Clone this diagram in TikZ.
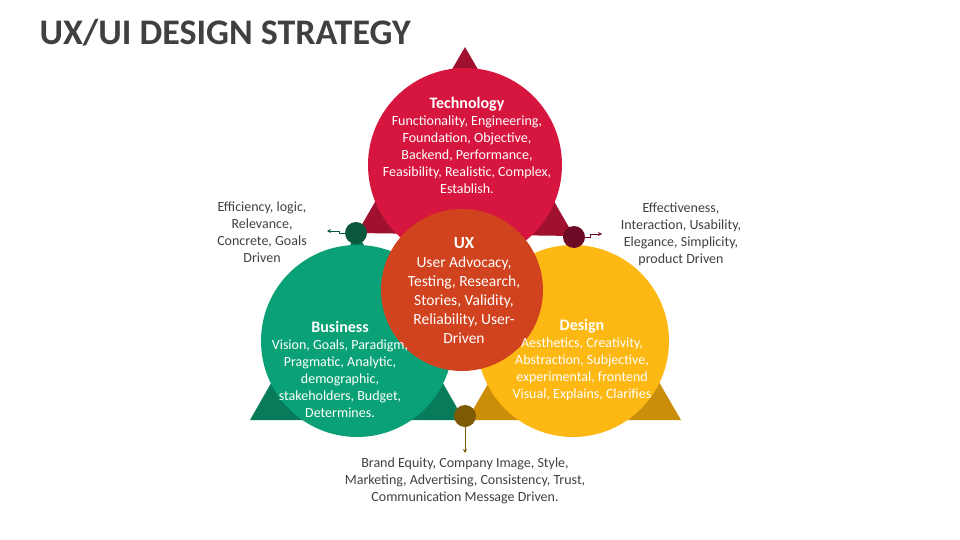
\documentclass[tikz,border=0pt]{standalone}
\usepackage{fontspec}
\setmainfont{Carlito}
\usepackage{tikz}
\usetikzlibrary{arrows.meta}

\definecolor{techred}{HTML}{D7163F}
\definecolor{techdark}{HTML}{A0102F}
\definecolor{busgreen}{HTML}{0AA176}
\definecolor{busdark}{HTML}{087B5B}
\definecolor{busdot}{HTML}{0B5840}
\definecolor{desyellow}{HTML}{FDB813}
\definecolor{desdark}{HTML}{CB8E08}
\definecolor{desdot}{HTML}{6D0A26}
\definecolor{uxred}{HTML}{D1421E}
\definecolor{brandot}{HTML}{7F5A05}
\definecolor{txtgray}{HTML}{404040}

\begin{document}
\begin{tikzpicture}[x=1pt,y=-1pt,
    circtext/.style={text=white,align=center,font=\fontsize{14}{17}\selectfont},
    sidetext/.style={text=txtgray,align=center,font=\fontsize{14}{17}\selectfont},
    dot/.style={circle,minimum size=22pt,inner sep=0pt},
    link/.style={-{Stealth[length=4pt,width=4pt]},line width=0.7pt}]
    \useasboundingbox (0,0) rectangle (960,540);
    \node[anchor=base west,text=txtgray,font=\fontsize{36}{40}\selectfont\bfseries] (title) at (36,45) {UX/UI DESIGN STRATEGY};
    \fill[techdark] (465,47) -- (357,233) -- (574,236) -- cycle;
    \fill[busdark] (357,233) -- (250,420) -- (464,420) -- cycle;
    \fill[desdark] (574,236) -- (467,420) -- (681,420) -- cycle;
    \fill[techred] (465,165) circle (97);
    \fill[busgreen] (357,341) circle (96);
    \fill[desyellow] (573,341) circle (96);
    \fill[uxred] (462,290) circle (81);
    \node[circtext] (tech) at (467,145) {\fontsize{16}{17}\selectfont\bfseries Technology\\
        Functionality, Engineering,\\ Foundation, Objective,\\ Backend, Performance,\\
        Feasibility, Realistic, Complex,\\ Establish.};
    \node[circtext,font=\fontsize{15.5}{19}\selectfont] (ux) at (464,291) {\fontsize{17}{19}\selectfont\bfseries UX\\
        User Advocacy,\\ Testing, Research,\\ Stories, Validity,\\ Reliability, User-\\ Driven};
    \node[circtext] (bus) at (340,369) {\fontsize{16}{17}\selectfont\bfseries Business\\
        Vision, Goals, Paradigm,\\ Pragmatic, Analytic,\\ demographic,\\
        stakeholders, Budget,\\ Determines.};
    \node[circtext] (des) at (582,360) {\fontsize{16}{17}\selectfont\bfseries Design\\
        Aesthetics, Creativity,\\ Abstraction, Subjective,\\ experimental, frontend\\
        Visual, Explains, Clarifies};
    \node[dot,fill=busdot] (gdot) at (356,233) {};
    \node[dot,fill=desdot] (mdot) at (574,237) {};
    \node[dot,fill=brandot] (bdot) at (465,416) {};
    \coordinate (gend) at (327,231);
    \coordinate (mend) at (602,234);
    \coordinate (bend) at (465,453);
    \draw[link,busdot] (gdot.west) -- ++(-5,0) |- (gend);
    \draw[link,desdot] (mdot.east) -- ++(5,0) |- (mend);
    \draw[link,brandot] (bdot.south) -- (bend);
    \node[sidetext] (effic) at (262,232) {Efficiency, logic,\\ Relevance,\\ Concrete, Goals\\ Driven};
    \node[sidetext] (effect) at (681,234) {Effectiveness,\\ Interaction, Usability,\\ Elegance, Simplicity,\\ product Driven};
    \node[sidetext] (brand) at (465,481) {Brand Equity, Company Image, Style,\\
        Marketing, Advertising, Consistency, Trust,\\ Communication Message Driven.};
\end{tikzpicture}
\end{document}
